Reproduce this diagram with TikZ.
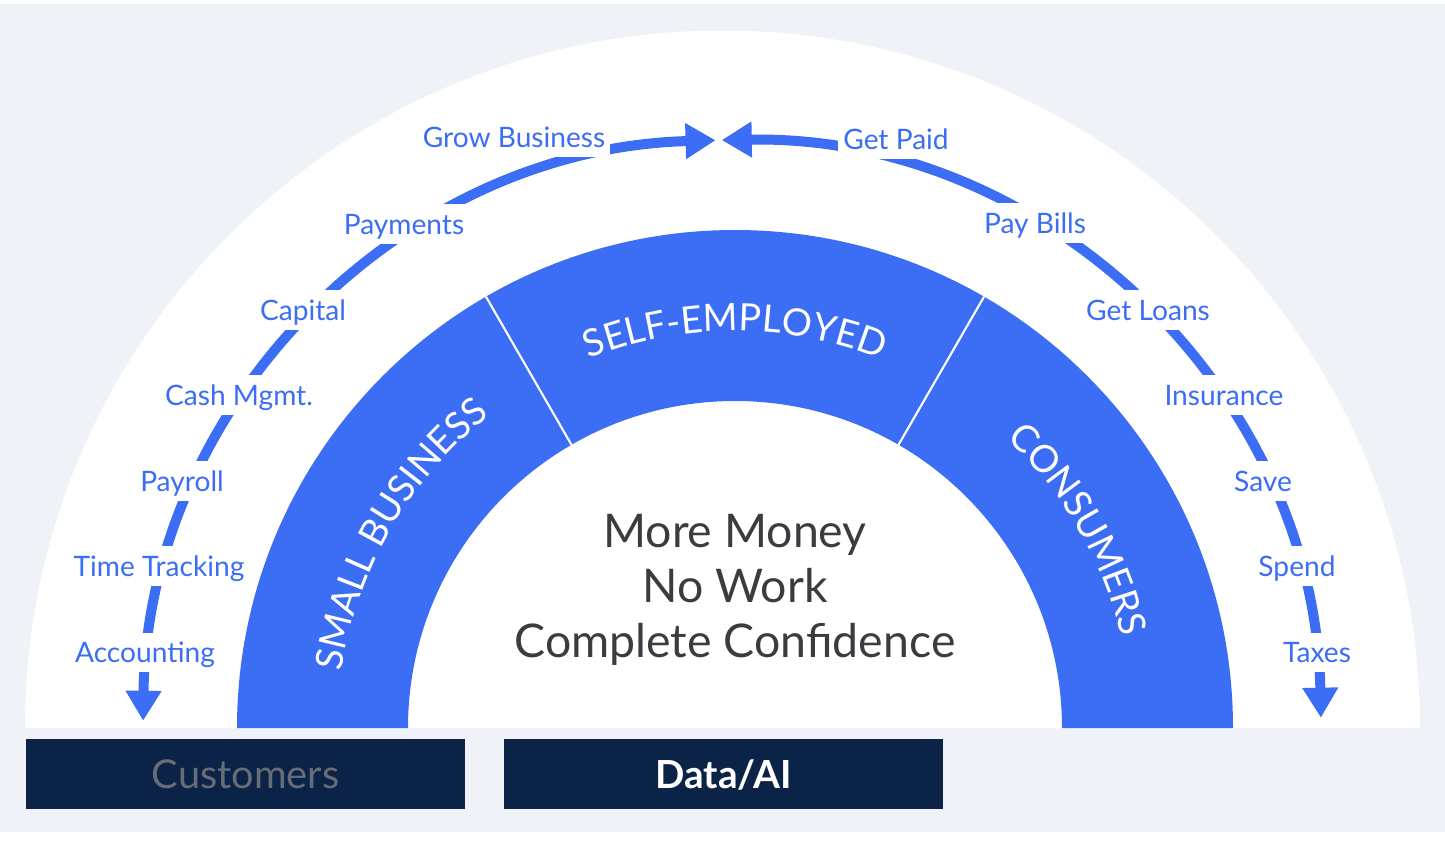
\documentclass[tikz,border=0pt]{standalone}
\usepackage{fontspec}
\setmainfont{Lato}
\usetikzlibrary{arrows.meta,decorations.text}

\definecolor{brand}{HTML}{3C6DF5}
\definecolor{navy}{HTML}{0C2348}
\definecolor{paper}{HTML}{EFF2F7}
\definecolor{ink}{HTML}{3B3C40}
\definecolor{dim}{HTML}{676C78}

\newcommand{\segfont}{\fontsize{10.7}{12}\selectfont}

\tikzset{
	tag/.style={fill=white, text=brand, font=\fontsize{8}{9}\selectfont,
		inner xsep=0.05cm, inner ysep=0pt, text height=0.2cm, text depth=0pt,
		minimum height=0.39cm},
	flow/.style={draw=brand, line width=1mm,
		{Triangle[length=3mm,width=3.4mm]}-{Triangle[length=3mm,width=3.4mm]}},
	block/.style={fill=navy, minimum width=4.39cm, minimum height=0.7cm,
		inner sep=0pt, text height=0.29cm, text depth=0pt,
		font=\fontsize{11.3}{14}\selectfont},
	segtext/.style={decorate, decoration={text along path, text align=center,
		text color=white, text={#1}}},
}

\begin{document}
\begin{tikzpicture}[x=0.01cm, y=0.01cm]
		\useasboundingbox (0,0) rectangle (1445,844);
		\fill[white] (0,0) rectangle (1445,844);
		\fill[paper] (0,12) rectangle (1445,840);
		% dome
		\fill[white] (25,116) arc[start angle=180, end angle=0, radius=697.5] -- cycle;

		% ring of segments
		\coordinate (ctr) at (735,116);
		\fill[brand] ([shift={(180:498)}]ctr) arc[start angle=180, end angle=0, radius=498]
			-- ([shift={(0:327)}]ctr) arc[start angle=0, end angle=180, radius=327] -- cycle;
		\foreach \a in {60,120}
			\draw[white, line width=0.6pt] ([shift={(\a:327)}]ctr) -- ([shift={(\a:498)}]ctr);
		\path[segtext={|\segfont|SMALL BUSINESS}] ([shift={(180:397)}]ctr) arc[start angle=180, end angle=120, radius=397];
		\path[segtext={|\segfont|SELF-EMPLOYED}] ([shift={(120:397)}]ctr) arc[start angle=120, end angle=60, radius=397];
		\path[segtext={|\segfont|CONSUMERS}] ([shift={(60:397)}]ctr) arc[start angle=60, end angle=0, radius=397];

		\node[anchor=north, align=center, inner sep=0pt, text=ink,
			font=\fontsize{13.2}{15.6}\selectfont] (motto) at (735,330) {More Money\\No Work\\Complete Confidence};

		% the two loops
		\coordinate (hub) at (732,116);
		\draw[flow] ([shift={(91.6:588)}]hub) arc[start angle=91.6, end angle=179.2, radius=589];
		\draw[flow] ([shift={(91:588)}]hub) arc[start angle=91, end angle=1.1, radius=589];

		\node[tag] (grow) at (514,707) {Grow Business};
		\node[tag] (payments) at (404,620) {Payments};
		\node[tag] (capital) at (303,534) {Capital};
		\node[tag] (cash) at (239,449) {Cash Mgmt.};
		\node[tag] (payroll) at (182,363) {Payroll};
		\node[tag] (time) at (159,278) {Time Tracking};
		\node[tag] (acct) at (145,192) {Accounting};

		\node[tag] (paid) at (896,705) {Get Paid};
		\node[tag] (bills) at (1035,621) {Pay Bills};
		\node[tag] (loans) at (1148,534) {Get Loans};
		\node[tag] (ins) at (1224,449) {Insurance};
		\node[tag] (save) at (1263,363) {Save};
		\node[tag] (spend) at (1297,278) {Spend};
		\node[tag] (taxes) at (1317,192) {Taxes};

		% bottom bars
		\node[block, text=dim] (cust) at (245.5,70) {Customers};
		\node[block, text=white, font=\bfseries\fontsize{11}{14}\selectfont] (data) at (723.5,70) {Data/AI};
	\end{tikzpicture}
\end{document}
